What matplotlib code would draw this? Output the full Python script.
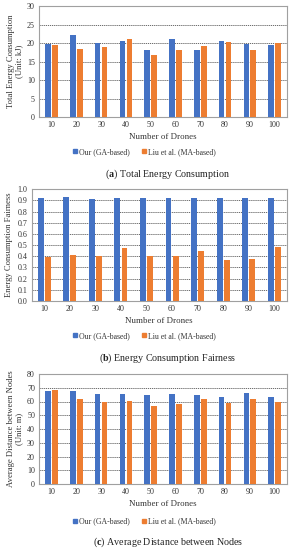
import numpy as np
import matplotlib.pyplot as plt
from matplotlib.lines import Line2D

plt.rcParams['font.family'] = ['Liberation Serif', 'DejaVu Serif']
plt.rcParams['mathtext.fontset'] = 'custom'
plt.rcParams['mathtext.rm'] = 'Liberation Serif'
plt.rcParams['mathtext.bf'] = 'Liberation Serif:bold'

drones = ['10', '20', '30', '40', '50', '60', '70', '80', '90', '100']
labels = ['Our (GA-based)', 'Liu et al. (MA-based)']

energy_our = [19.8, 22.2, 19.9, 20.5, 18.1, 21.1, 18.1, 20.5, 19.7, 19.6]
energy_liu = [19.5, 18.3, 18.9, 21.0, 16.7, 18.0, 19.3, 20.2, 18.2, 19.9]

fair_our = [0.92, 0.93, 0.915, 0.92, 0.92, 0.92, 0.92, 0.925, 0.92, 0.92]
fair_liu = [0.39, 0.415, 0.405, 0.47, 0.40, 0.40, 0.45, 0.37, 0.375, 0.48]

dist_our = [68, 67.5, 65.5, 65.5, 64.5, 65.5, 64.5, 63.5, 66, 63]
dist_liu = [68.5, 61.5, 60, 60.5, 56.5, 58.5, 61.5, 59, 61.5, 60]

blue = '#4472C4'
orange = '#ED7D31'

fig = plt.figure(figsize=(2.92, 5.5), dpi=100)

# axes rect, series, y range, ticks, format, ylabel, caption letter/text, legend y, caption y
panels = [
    ([0.134, 0.787, 0.849, 0.202], energy_our, energy_liu, (0, 30), np.arange(0, 31, 5), '%d',
     'Total Energy Consumption\n(Unit: kJ)', 'a', 'Total Energy Consumption', 0.724, 0.683),
    ([0.108, 0.453, 0.875, 0.203], fair_our, fair_liu, (0, 1.0), np.arange(0, 1.01, 0.1), '%.1f',
     'Energy Consumption Fairness', 'b', 'Energy Consumption Fairness', 0.389, 0.349),
    ([0.134, 0.120, 0.849, 0.200], dist_our, dist_liu, (0, 80), np.arange(0, 81, 10), '%d',
     'Average Distance between Nodes\n(Unit: m)', 'c', 'Average Distance between Nodes', 0.052, 0.0145),
]

x = np.arange(len(drones))
w = 0.23
for rect, our, liu, ylim, yt, fmt, ylab, letter, cap, legy, capy in panels:
    ax = fig.add_axes(rect)
    ax.bar(x - 0.14, our, w, color=blue, zorder=3)
    ax.bar(x + 0.14, liu, w, color=orange, zorder=3)
    ax.set_xlim(-0.5, len(drones) - 0.5)
    ax.set_ylim(*ylim)
    ax.set_yticks(yt)
    ax.set_yticklabels([fmt % v for v in yt])
    ax.set_xticks(x)
    ax.set_xticklabels(drones)
    ax.tick_params(length=0, labelsize=5.8, pad=3, colors='#333333')
    for t in yt[1:-1]:
        ax.axhline(t, color='#555555', lw=0.6, ls=(0, (1.5, 1)), zorder=1)
    for s in ax.spines.values():
        s.set_color('#a0a0a0')
        s.set_linewidth(0.8)
    ax.set_xlabel('Number of Drones', fontsize=6.4, labelpad=3, color='#333333')
    ax.set_ylabel(ylab, fontsize=6.2, labelpad=3, color='#333333', linespacing=1.0)
    handles = [Line2D([], [], marker='s', ls='', color=blue, markersize=3),
               Line2D([], [], marker='s', ls='', color=orange, markersize=3)]
    ax.legend(handles, labels, loc='center', bbox_to_anchor=(0.493, legy),
              bbox_transform=fig.transFigure, ncol=2, frameon=False, fontsize=5.6,
              handletextpad=0.1, columnspacing=1.5, handlelength=0.8, labelcolor='#333333')
    fig.text(0.575, capy, r'($\mathbf{%s}$) %s' % (letter, cap), ha='center', va='center',
             fontsize=7.2, color='#222222')

fig.savefig('out.png', dpi=100)
